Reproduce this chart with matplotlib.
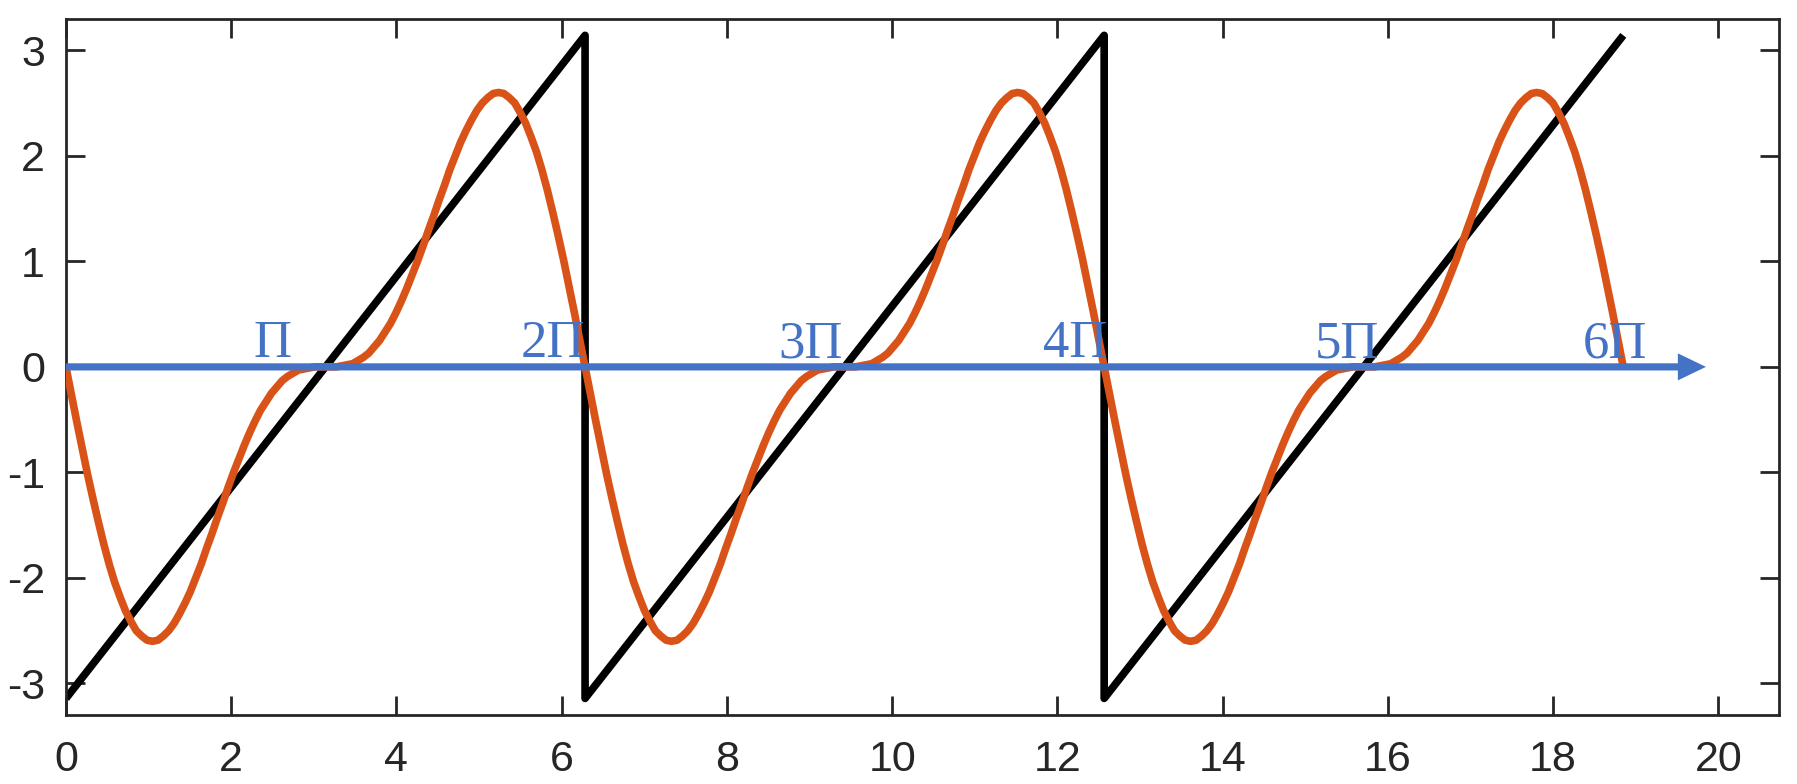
import numpy as np
import matplotlib.pyplot as plt

plt.rcParams['axes.unicode_minus'] = False

# orange curve, one period sampled every pi/48 (the picture repeats it 3 times)
wave_period = [0.00, -0.26, -0.52, -0.77, -1.02, -1.25, -1.47, -1.68,
               -1.87, -2.04, -2.18, -2.31, -2.41, -2.50, -2.55, -2.59,
               -2.60, -2.59, -2.55, -2.50, -2.43, -2.34, -2.24, -2.13,
               -2.00, -1.87, -1.72, -1.58, -1.43, -1.29, -1.14, -1.00,
               -0.87, -0.74, -0.62, -0.51, -0.41, -0.33, -0.25, -0.19,
               -0.13, -0.09, -0.06, -0.03, -0.02, -0.01, 0.00, 0.00,
               0.00, 0.00, 0.00, 0.01, 0.02, 0.03, 0.06, 0.09,
               0.13, 0.19, 0.25, 0.33, 0.41, 0.51, 0.62, 0.74,
               0.87, 1.00, 1.14, 1.29, 1.43, 1.58, 1.72, 1.87,
               2.00, 2.13, 2.24, 2.34, 2.43, 2.50, 2.55, 2.59,
               2.60, 2.59, 2.55, 2.50, 2.41, 2.31, 2.18, 2.04,
               1.87, 1.68, 1.47, 1.25, 1.02, 0.77, 0.52, 0.26]
n_periods = 3
step = np.pi / 48

# black sawtooth corners
saw_x = [0, 2 * np.pi, 2 * np.pi, 4 * np.pi, 4 * np.pi, 6 * np.pi]
saw_y = [-np.pi, np.pi, -np.pi, np.pi, -np.pi, np.pi]

pi_labels = ['\u03a0', '2\u03a0', '3\u03a0', '4\u03a0', '5\u03a0', '6\u03a0']

wave_y = np.append(np.tile(wave_period, n_periods), 0.0)
wave_x = np.arange(len(wave_y)) * step

axis_col = '#262626'
blue = '#4472C4'

fig = plt.figure(figsize=(17.97, 7.84), dpi=100)
ax = fig.add_axes([0.0367, 0.088, 0.9533, 0.8881])

ax.plot(saw_x, saw_y, color='black', lw=5.5, solid_capstyle='butt', zorder=2)
ax.plot(wave_x, wave_y, color='#D95319', lw=5.5, solid_capstyle='butt',
        solid_joinstyle='round', zorder=3)

# blue arrow along y=0
ax.arrow(0, 0, 19.85, 0, width=0.068, head_width=0.256, head_length=0.34,
         length_includes_head=True, color=blue, lw=0, zorder=4)

# labels placed by hand, right edge x
label_right = [2.73, 6.28, 9.40, 12.60, 15.90, 19.14]
for lab, xr in zip(pi_labels, label_right):
    ax.text(xr, 0.09, lab, ha='right', va='baseline', color=blue,
            fontsize=38, family=['Liberation Serif', 'DejaVu Serif'], zorder=5)

ax.set_xlim(0, 6 * np.pi * 1.1)
ax.set_ylim(-np.pi * 1.05, np.pi * 1.05)
ax.set_xticks(range(0, 21, 2))
ax.set_yticks(range(-3, 4))

for side in ax.spines.values():
    side.set_linewidth(2)
    side.set_color(axis_col)
ax.tick_params(direction='in', length=13.7, width=2, color=axis_col,
               top=True, right=True, labelsize=31, labelcolor=axis_col)
ax.tick_params(axis='x', pad=18)
ax.tick_params(axis='y', pad=15)
for lbl in ax.get_xticklabels() + ax.get_yticklabels():
    lbl.set_family(['Liberation Sans', 'DejaVu Sans'])

fig.savefig('out.png', dpi=100)
